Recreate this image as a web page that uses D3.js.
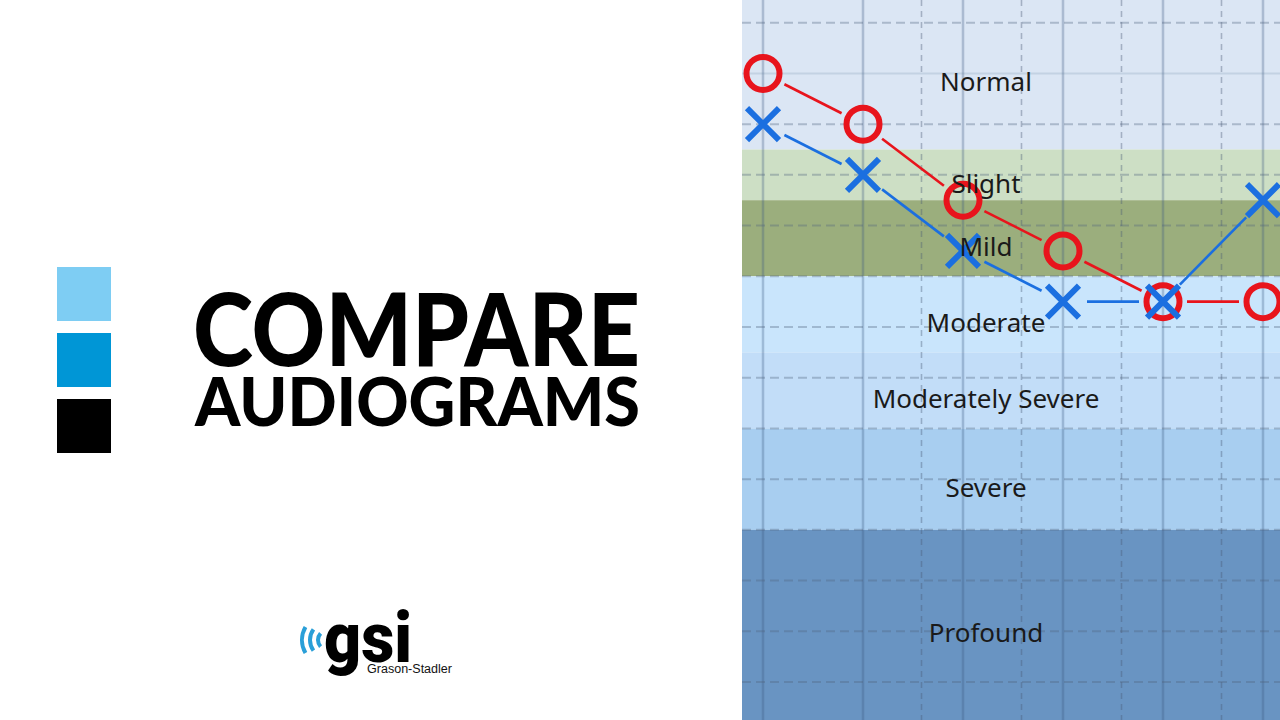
<!DOCTYPE html>
<html>
<head>
<meta charset="utf-8">
<script src="https://cdn.jsdelivr.net/npm/d3@7"></script>
<style>
  body { margin: 0; background: #fff; }
  svg { display: block; }
</style>
</head>
<body>
<div id="chart"></div>
<script>
// audiogram data
var frequencies = [250, 500, 1000, 2000, 4000, 8000];
var halfOctaves = [750, 1500, 3000, 6000];
var rightEar = [0, 10, 25, 35, 45, 45];   // O, red
var leftEar = [10, 20, 35, 45, 45, 25];   // X, blue
var dbTicks = [-10, 0, 10, 20, 30, 40, 50, 60, 70, 80, 90, 100, 110, 120];
var bandNames = ["Normal", "Slight", "Mild", "Moderate", "Moderately Severe", "Severe", "Profound"];
var bandLimits = [-15, 15, 25, 40, 55, 70, 90, 128];

var W = 1280, H = 720;
var panel = { left: 742, right: 1280 };

var svg = d3.select("#chart").append("svg")
    .attr("width", W)
    .attr("height", H);

// ---------- left side: title block ----------
var squareColors = ["#7ecdf3", "#0096d6", "#000000"];
svg.selectAll("rect.sq")
  .data(squareColors)
  .enter()
  .append("rect")
    .attr("class", "sq")
    .attr("x", 57)
    .attr("y", function(d, i) { return 267 + i * 66; })
    .attr("width", 54)
    .attr("height", 54)
    .attr("fill", function(d) { return d; });

svg.append("text")
    .attr("x", 193)
    .attr("y", 366)
    .attr("font-family", "Lato, 'Noto Sans', sans-serif")
    .attr("font-weight", 900)
    .attr("font-size", 101)
    .attr("textLength", 447)
    .attr("lengthAdjust", "spacingAndGlyphs")
    .attr("fill", "#000")
    .text("COMPARE");

svg.append("text")
    .attr("x", 195)
    .attr("y", 426)
    .attr("font-family", "Lato, 'Noto Sans', sans-serif")
    .attr("font-weight", 900)
    .attr("font-size", 66)
    .attr("textLength", 445)
    .attr("lengthAdjust", "spacingAndGlyphs")
    .attr("fill", "#000")
    .text("AUDIOGRAMS");

// gsi logo
var logo = svg.append("g");
var waveArc = d3.arc();
[{ r: 26, a: 30 }, { r: 18, a: 36 }, { r: 10, a: 42 }].forEach(function(w) {
  logo.append("path")
      .attr("transform", "translate(328,640)")
      .attr("d", waveArc({
        innerRadius: w.r - 2,
        outerRadius: w.r + 2,
        startAngle: (-90 - w.a) * Math.PI / 180,
        endAngle: (-90 + w.a) * Math.PI / 180
      }))
      .attr("fill", "#2a9fd8");
});
logo.append("text")
    .attr("x", 324)
    .attr("y", 662)
    .attr("font-family", "Roboto, 'Liberation Sans', Arial, sans-serif")
    .attr("font-weight", 900)
    .attr("font-size", 70)
    .attr("textLength", 88)
    .attr("lengthAdjust", "spacingAndGlyphs")
    .attr("fill", "#000")
    .text("gsi");
logo.append("text")
    .attr("x", 367)
    .attr("y", 673)
    .attr("font-family", "'Liberation Sans', Arial, sans-serif")
    .attr("font-size", 12.5)
    .attr("textLength", 85)
    .attr("lengthAdjust", "spacingAndGlyphs")
    .attr("fill", "#111")
    .text("Grason-Stadler");

// ---------- right side: audiogram ----------
var x = d3.scaleLog()
    .domain([250, 8000])
    .range([763, 1263]);

var y = d3.scaleLinear()
    .domain([-10, 120])
    .range([22.7, 682]);

var bandColor = d3.scaleOrdinal()
    .domain(bandNames)
    .range(["#dbe6f4", "#cddfc5", "#9bae7d", "#c9e5fc", "#c2ddf8", "#a8cef0", "#6994c2"]);

svg.append("clipPath")
    .attr("id", "panelClip")
  .append("rect")
    .attr("x", panel.left)
    .attr("y", 0)
    .attr("width", panel.right - panel.left)
    .attr("height", H);

var chart = svg.append("g").attr("clip-path", "url(#panelClip)");

var bands = bandNames.map(function(name, i) {
  return { name: name, lo: bandLimits[i], hi: bandLimits[i + 1] };
});

// severity bands
chart.selectAll("rect.band")
  .data(bands)
  .enter()
  .append("rect")
    .attr("class", "band")
    .attr("x", panel.left)
    .attr("width", panel.right - panel.left)
    .attr("y", function(d) { return y(d.lo); })
    .attr("height", function(d) { return y(d.hi) - y(d.lo); })
    .attr("fill", function(d) { return bandColor(d.name); });

// vertical grid: octaves solid, half octaves dashed
chart.selectAll("line.oct")
  .data(frequencies)
  .enter()
  .append("line")
    .attr("class", "oct")
    .attr("x1", function(d) { return x(d); })
    .attr("x2", function(d) { return x(d); })
    .attr("y1", 0)
    .attr("y2", H)
    .attr("stroke", "rgba(60,90,130,0.3)")
    .attr("stroke-width", 2.5);

chart.selectAll("line.half")
  .data(halfOctaves)
  .enter()
  .append("line")
    .attr("class", "half")
    .attr("x1", function(d) { return x(d); })
    .attr("x2", function(d) { return x(d); })
    .attr("y1", 0)
    .attr("y2", H)
    .attr("stroke", "rgba(70,90,115,0.38)")
    .attr("stroke-width", 1.6)
    .attr("stroke-dasharray", "6,5");

// horizontal grid: dashed every 10 dB, 0 dB solid
chart.selectAll("line.db")
  .data(dbTicks)
  .enter()
  .append("line")
    .attr("class", "db")
    .attr("x1", panel.left)
    .attr("x2", panel.right)
    .attr("y1", function(d) { return y(d); })
    .attr("y2", function(d) { return y(d); })
    .attr("stroke", function(d) { return d === 0 ? "rgba(90,120,150,0.18)" : "rgba(80,100,125,0.35)"; })
    .attr("stroke-width", 2)
    .attr("stroke-dasharray", function(d) { return d === 0 ? null : "9,5"; });

// connecting lines, trimmed so they stop short of the symbols
var trim = 24;
function segments(values) {
  var pts = frequencies.map(function(f, i) { return [x(f), y(values[i])]; });
  return d3.pairs(pts).map(function(p) {
    var dx = p[1][0] - p[0][0], dy = p[1][1] - p[0][1];
    var len = Math.sqrt(dx * dx + dy * dy);
    var ux = dx / len, uy = dy / len;
    return [p[0][0] + ux * trim, p[0][1] + uy * trim, p[1][0] - ux * trim, p[1][1] - uy * trim];
  });
}

var red = "#e8141c", blue = "#1b6fe0";

function drawLines(values, color, cls) {
  chart.selectAll("line." + cls)
    .data(segments(values))
    .enter()
    .append("line")
      .attr("class", cls)
      .attr("x1", function(d) { return d[0]; })
      .attr("y1", function(d) { return d[1]; })
      .attr("x2", function(d) { return d[2]; })
      .attr("y2", function(d) { return d[3]; })
      .attr("stroke", color)
      .attr("stroke-width", 2.6);
}

drawLines(rightEar, red, "segR");

chart.selectAll("circle.ear")
  .data(rightEar)
  .enter()
  .append("circle")
    .attr("class", "ear")
    .attr("cx", function(d, i) { return x(frequencies[i]); })
    .attr("cy", function(d) { return y(d); })
    .attr("r", 16.5)
    .attr("fill", "none")
    .attr("stroke", red)
    .attr("stroke-width", 6);

drawLines(leftEar, blue, "segL");

var s = 16;
chart.selectAll("path.ear")
  .data(leftEar)
  .enter()
  .append("path")
    .attr("class", "ear")
    .attr("transform", function(d, i) { return "translate(" + x(frequencies[i]) + "," + y(d) + ")"; })
    .attr("d", "M" + (-s) + "," + (-s) + "L" + s + "," + s + "M" + s + "," + (-s) + "L" + (-s) + "," + s)
    .attr("fill", "none")
    .attr("stroke", blue)
    .attr("stroke-width", 6);

// band labels
chart.selectAll("text.band")
  .data(bands)
  .enter()
  .append("text")
    .attr("class", "band")
    .attr("x", 986)
    .attr("y", function(d) { return y((d.lo + Math.min(d.hi, 127)) / 2) + 8; })
    .attr("text-anchor", "middle")
    .attr("dominant-baseline", "central")
    .attr("font-family", "'Noto Sans', 'Open Sans', sans-serif")
    .attr("font-size", 26)
    .attr("fill", "#1a1a1a")
    .text(function(d) { return d.name; });
</script>
</body>
</html>
